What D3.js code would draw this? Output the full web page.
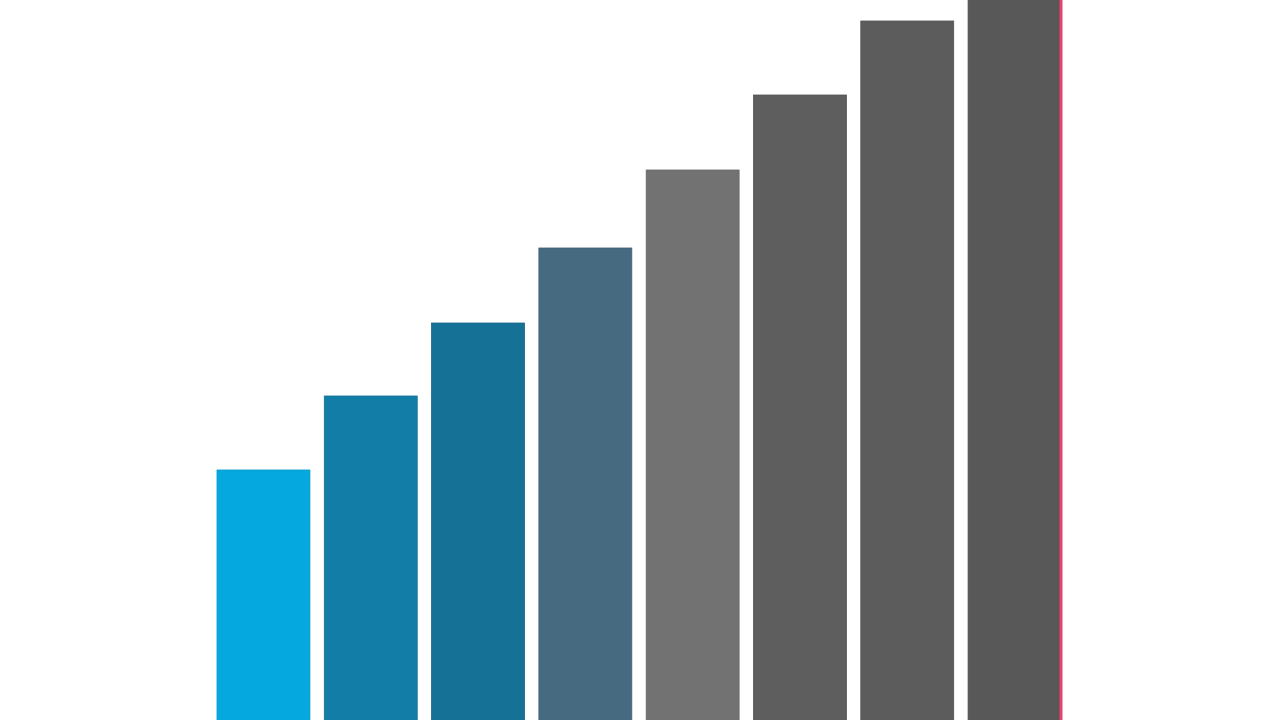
<!DOCTYPE html>
<html lang="en">
<head>
<meta charset="utf-8">
<title>Rising bars</title>
<script src="https://cdn.jsdelivr.net/npm/d3@7"></script>
<style>
  html, body { margin: 0; padding: 0; background: #ffffff; overflow: hidden; }
</style>
</head>
<body>
<script>
// categories and values (bar heights, arbitrary units)
var categories = ["1", "2", "3", "4", "5", "6", "7", "8"]
var values = [250, 324, 397, 472, 550, 625, 699, 775]
var colors = ["#05a9df", "#127ea7", "#167197", "#466a80", "#727272", "#5e5e5e", "#5c5c5c", "#585858"]

var width = 1280
var height = 720

var svg = d3.select("body")
            .append("svg")
            .attr("width", width)
            .attr("height", height)

var x = d3.scaleBand()
          .domain(categories)
          .range([217, 1061])
          .paddingInner(0.134)
          .paddingOuter(0)

var y = d3.scaleLinear()
          .domain([0, 720])
          .range([height, 0])

svg.selectAll("rect.bar")
   .data(values)
   .enter()
   .append("rect")
   .attr("class", "bar")
   .attr("x", function(d, i) { return x(categories[i]) })
   .attr("y", function(d) { return y(d) })
   .attr("width", x.bandwidth())
   .attr("height", function(d) { return height - y(d) + 5 })
   .attr("fill", function(d, i) { return colors[i] })
   .attr("stroke", function(d, i) { return d3.color(colors[i]).darker(0.3) })
   .attr("stroke-width", 0.8)

// thin red marker on the right edge of the last bar
var last = categories[categories.length - 1]
svg.append("line")
   .attr("x1", x(last) + x.bandwidth())
   .attr("x2", x(last) + x.bandwidth())
   .attr("y1", 0)
   .attr("y2", height)
   .attr("stroke", "#e8416f")
   .attr("stroke-width", 3)
</script>
</body>
</html>
